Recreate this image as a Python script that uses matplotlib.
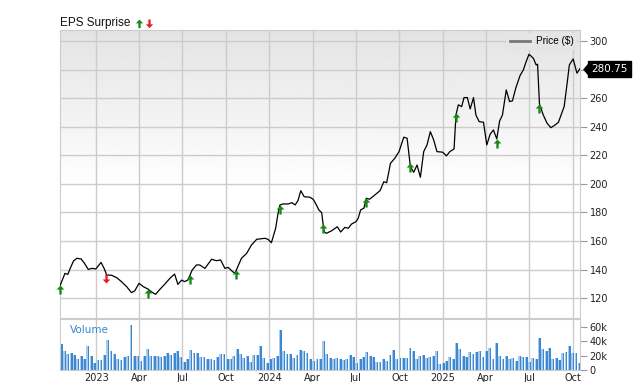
import numpy as np
import pandas as pd
import matplotlib
matplotlib.use("Agg")
import matplotlib.pyplot as plt
import matplotlib.dates as mdates
from matplotlib.path import Path
from matplotlib.lines import Line2D
from matplotlib.transforms import blended_transform_factory

# weekly closing price
price_dates = [
    "2022-10-17", "2022-10-27", "2022-11-02", "2022-11-07", "2022-11-14", "2022-11-21",
    "2022-11-30", "2022-12-07", "2022-12-15", "2022-12-23", "2022-12-31", "2023-01-11",
    "2023-01-18", "2023-01-23", "2023-02-02", "2023-02-13", "2023-02-23", "2023-03-06",
    "2023-03-16", "2023-03-23", "2023-04-01", "2023-04-10", "2023-04-20", "2023-04-27",
    "2023-05-06", "2023-05-15", "2023-05-25", "2023-06-05", "2023-06-15", "2023-06-22",
    "2023-06-30", "2023-07-06", "2023-07-13", "2023-07-22", "2023-07-31", "2023-08-07",
    "2023-08-18", "2023-09-01", "2023-09-11", "2023-09-20", "2023-09-29", "2023-10-06",
    "2023-10-13", "2023-10-20", "2023-10-23", "2023-11-03", "2023-11-14", "2023-11-24",
    "2023-12-05", "2023-12-22", "2023-12-29", "2024-01-05", "2024-01-14", "2024-01-19",
    "2024-01-23", "2024-01-30", "2024-02-10", "2024-02-17", "2024-02-24", "2024-03-01",
    "2024-03-07", "2024-03-14", "2024-03-26", "2024-04-02", "2024-04-07", "2024-04-14",
    "2024-04-20", "2024-04-25", "2024-04-30", "2024-05-11", "2024-05-23", "2024-05-30",
    "2024-06-08", "2024-06-15", "2024-06-22", "2024-07-01", "2024-07-06", "2024-07-11",
    "2024-07-18", "2024-07-23", "2024-07-30", "2024-08-10", "2024-08-21", "2024-08-29",
    "2024-09-04", "2024-09-12", "2024-09-21", "2024-09-30", "2024-10-10", "2024-10-17",
    "2024-10-24", "2024-10-31", "2024-11-07", "2024-11-14", "2024-11-21", "2024-11-28",
    "2024-12-05", "2024-12-12", "2024-12-19", "2024-12-31", "2025-01-08", "2025-01-15",
    "2025-01-21", "2025-01-24", "2025-01-28", "2025-02-02", "2025-02-09", "2025-02-14",
    "2025-02-21", "2025-02-27", "2025-03-06", "2025-03-11", "2025-03-18", "2025-03-27",
    "2025-04-03", "2025-04-10", "2025-04-17", "2025-04-24", "2025-04-30", "2025-05-06",
    "2025-05-14", "2025-05-21", "2025-05-27", "2025-06-03", "2025-06-12", "2025-06-19",
    "2025-06-25", "2025-07-01", "2025-07-10", "2025-07-16", "2025-07-19", "2025-07-23",
    "2025-07-31", "2025-08-08", "2025-08-16", "2025-08-25", "2025-09-01", "2025-09-13",
    "2025-09-18", "2025-09-24", "2025-10-02", "2025-10-10", "2025-10-16",
]
price_values = [
    129.0, 137.3, 136.6, 140.8, 146.0, 147.9,
    147.4, 144.4, 140.1, 140.8, 140.4, 145.0,
    140.4, 136.1, 136.0, 134.3, 131.5, 128.0,
    123.8, 125.0, 130.3, 128.0, 126.3, 124.4,
    122.6, 126.1, 129.6, 133.8, 136.8, 129.6,
    132.6, 131.5, 132.6, 139.6, 143.2, 143.2,
    140.8, 147.2, 146.2, 146.7, 140.8, 141.5,
    139.2, 137.3, 139.6, 147.9, 151.4, 157.2,
    161.2, 161.9, 161.2, 158.8, 168.9, 179.4,
    185.3, 186.0, 186.0, 186.9, 185.3, 188.3,
    195.3, 191.1, 190.7, 189.3, 186.5, 181.8,
    179.9, 166.5, 165.4, 167.2, 170.0, 166.3,
    169.6, 168.9, 171.9, 173.5, 175.9, 181.8,
    183.0, 190.0, 189.3, 192.3, 195.3, 201.6,
    200.9, 214.5, 218.0, 222.7, 232.8, 232.1,
    212.1, 208.2, 213.3, 204.7, 222.7, 227.4,
    236.7, 230.9, 222.7, 222.3, 219.7, 222.7,
    223.9, 224.6, 248.4, 255.5, 254.3, 260.6,
    260.6, 252.6, 260.6, 248.4, 243.7, 243.3,
    227.4, 234.9, 237.9, 231.6, 244.2, 248.4,
    266.0, 257.8, 258.3, 267.2, 276.0, 280.0,
    285.9, 291.0, 288.2, 283.5, 284.0, 256.0,
    248.4, 242.6, 239.5, 241.4, 243.3, 254.3,
    267.2, 283.5, 287.7, 277.7, 280.75,
]

# earnings dates and whether EPS beat (up arrow) or missed (down arrow)
eps_dates = ["2022-10-17", "2023-01-22", "2023-04-19", "2023-07-18", "2023-10-23",
             "2024-01-23", "2024-04-23", "2024-07-23", "2024-10-23", "2025-01-29",
             "2025-04-24", "2025-07-23"]
eps_beat = [True, False, True, True, True, True, True, True, True, True, True, True]

# weekly volume (thousands)
volume_start = "2022-10-19"
volume_k = [
    36, 26, 22, 24, 21, 16, 19.5, 15, 33, 19,
    10, 13.6, 14, 21, 42, 27, 22, 16, 13.6, 17.7,
    20, 63, 20, 20, 12.7, 19, 29.5, 20, 20, 20,
    18, 20, 24, 21, 23, 26, 18, 11, 15, 28,
    24, 24, 18.6, 18.6, 15, 15, 13.6, 18.6, 22.7, 22.7,
    15.4, 16, 20, 29, 22, 17, 19, 11, 21, 21,
    33, 17, 10, 15, 17, 19, 55, 27, 22, 22,
    17, 21, 28, 27, 23, 15, 13, 15,
    16, 41, 22, 17, 15, 17, 15, 13.6, 16, 21,
    18, 10, 15, 17.7, 24.5, 20, 18.6, 11, 11, 15,
    13, 21, 27.7, 16, 17, 17, 17, 31, 26, 15,
    19, 21, 17, 18.6, 20, 27, 9, 10.4, 12, 18.6,
    15, 38, 29, 19, 18, 24.5, 22, 24.5, 27, 17.7,
    27, 31, 16, 38, 19.5, 16, 19.5, 15, 17, 12.7,
    20, 17.7, 18.6, 11.8, 17, 16, 45, 28.6, 27, 31,
    15, 17, 14, 23, 24.5, 33, 24, 24, 10.4,
]

price_ticks = [120, 140, 160, 180, 200, 220, 240, 260, 280, 300]
volume_ticks = [0, 20000, 40000, 60000]
volume_labels = ["0", "20k", "40k", "60k"]

GRID = "#cccccc"

pdates = pd.to_datetime(price_dates)
prices = np.array(price_values)
vdates = pd.date_range(volume_start, periods=len(volume_k), freq="7D")
volumes = np.array(volume_k) * 1000
last = prices[-1]

up_arrow = Path([(0, 0), (0.42, -0.45), (0.13, -0.45), (0.13, -1), (-0.13, -1),
                 (-0.13, -0.45), (-0.42, -0.45), (0, 0)],
                [Path.MOVETO] + [Path.LINETO] * 6 + [Path.CLOSEPOLY])
down_arrow = Path([(-0.13, 0), (0.13, 0), (0.13, -0.55), (0.42, -0.55), (0, -1),
                   (-0.42, -0.55), (-0.13, -0.55), (-0.13, 0)],
                  [Path.MOVETO] + [Path.LINETO] * 6 + [Path.CLOSEPOLY])

fig = plt.figure(figsize=(6.4, 3.82), dpi=100)
W, H = 640, 382
ax = fig.add_axes([60 / W, 64 / H, 520 / W, 288 / H])
axv = fig.add_axes([60 / W, 12 / H, 520 / W, 51 / H], sharex=ax)

# gradient background of the price panel
t = np.linspace(0, 1, 256)[:, None]
shade = 1 - 0.11 * np.clip((t - 0.45) / 0.55, 0, 1)
ax.imshow(shade, extent=[0, 1, 0, 1], transform=ax.transAxes, origin="lower",
          aspect="auto", cmap="gray", vmin=0, vmax=1, zorder=0)

ax.plot(pdates, prices, color="black", lw=0.9, zorder=3)

# EPS surprise arrows, top of arrow at price level on that date
pnum = mdates.date2num(pdates)
for d, beat in zip(pd.to_datetime(eps_dates), eps_beat):
    y = np.interp(mdates.date2num(d), pnum, prices)
    ax.plot([d], [y], marker=up_arrow if beat else down_arrow, ms=13, mew=0,
            color="#138a13" if beat else "#ee1c1c", zorder=4, clip_on=False)

# volume bars: light left half, dark right half
vnum = mdates.date2num(vdates)
axv.bar(vnum - 1.5, volumes, width=3.0, color="#a7cbee", lw=0, zorder=2)
axv.bar(vnum + 1.5, volumes, width=3.0, color="#3d88cf", lw=0, zorder=2)
axv.text(0.02, 0.78, "Volume", transform=axv.transAxes, color="#3a87cb",
         fontsize=7.5, family="DejaVu Sans", va="center")

ax.set_xlim(pd.Timestamp("2022-10-16 12:00"), pd.Timestamp("2025-10-16 10:00"))
ax.set_ylim(106, 308)
axv.set_ylim(0, 71000)

for a in (ax, axv):
    a.xaxis.set_major_locator(mdates.MonthLocator(bymonth=[1, 4, 7, 10]))
    a.grid(True, axis="x", color=GRID, lw=1, zorder=1)
    a.yaxis.tick_right()
    a.tick_params(axis="y", length=5, width=0.8, color="#999999", pad=2,
                  labelcolor="#222222", labelsize=7)
    for s in a.spines.values():
        s.set_color(GRID)
    a.set_axisbelow(True)
ax.grid(True, axis="y", color=GRID, lw=1, zorder=1)

# the price tag covers the tick label nearest to the last price
ax.set_yticks(price_ticks)
ax.set_yticklabels(["" if abs(v - last) < 8 else str(v) for v in price_ticks])
axv.set_yticks(volume_ticks)
axv.set_yticklabels(volume_labels)
ax.tick_params(axis="x", length=0, labelbottom=False)
axv.tick_params(axis="x", length=0, pad=2.5, labelsize=7, labelcolor="#222222")
axv.xaxis.set_major_formatter(
    plt.FuncFormatter(lambda v, p: mdates.num2date(v).strftime("%Y")
                      if mdates.num2date(v).month == 1 else mdates.num2date(v).strftime("%b")))
for lab in ax.get_yticklabels() + axv.get_yticklabels() + axv.get_xticklabels():
    lab.set_family("DejaVu Sans")

# legend
leg = ax.legend([Line2D([], [], color="#777777", lw=2)], ["Price ($)"],
                loc="upper right", bbox_to_anchor=(1.0, 1.0), frameon=True,
                prop=dict(family="Liberation Sans", size=7.2), handlelength=2.0,
                handletextpad=0.6, borderpad=0.35, borderaxespad=0.3)
leg.get_frame().set_facecolor("#e5e5e5")
leg.get_frame().set_edgecolor("none")
leg.get_frame().set_alpha(1)

# last price tag
bt = blended_transform_factory(ax.transAxes, ax.transData)
tag_tip = Path([(-0.8, 0), (0.05, -1), (0.05, 1), (-0.8, 0)],
               [Path.MOVETO, Path.LINETO, Path.LINETO, Path.CLOSEPOLY])
ax.plot([1.0173], [last], marker=tag_tip, ms=11.5, mew=0, color="black",
        transform=bt, clip_on=False, zorder=5)
ax.text(1.022, last, f"{last:.2f}", transform=bt, ha="left", va="center",
        color="white", fontsize=7.5, family="DejaVu Sans", zorder=6,
        bbox=dict(boxstyle="square,pad=0.3", fc="black", ec="black"))

# header
fig.text(60.5 / W, 1 - 23 / H, "EPS Surprise", family="Liberation Sans", fontsize=8.5,
         va="center", ha="left", color="#111111")
fig.add_artist(Line2D([139 / W], [1 - 18.5 / H], marker=up_arrow, ms=12.5, mew=0,
                      color="#138a13", transform=fig.transFigure))
fig.add_artist(Line2D([149 / W], [1 - 18.5 / H], marker=down_arrow, ms=12.5, mew=0,
                      color="#ee1c1c", transform=fig.transFigure))

fig.savefig("out.png", dpi=100)
